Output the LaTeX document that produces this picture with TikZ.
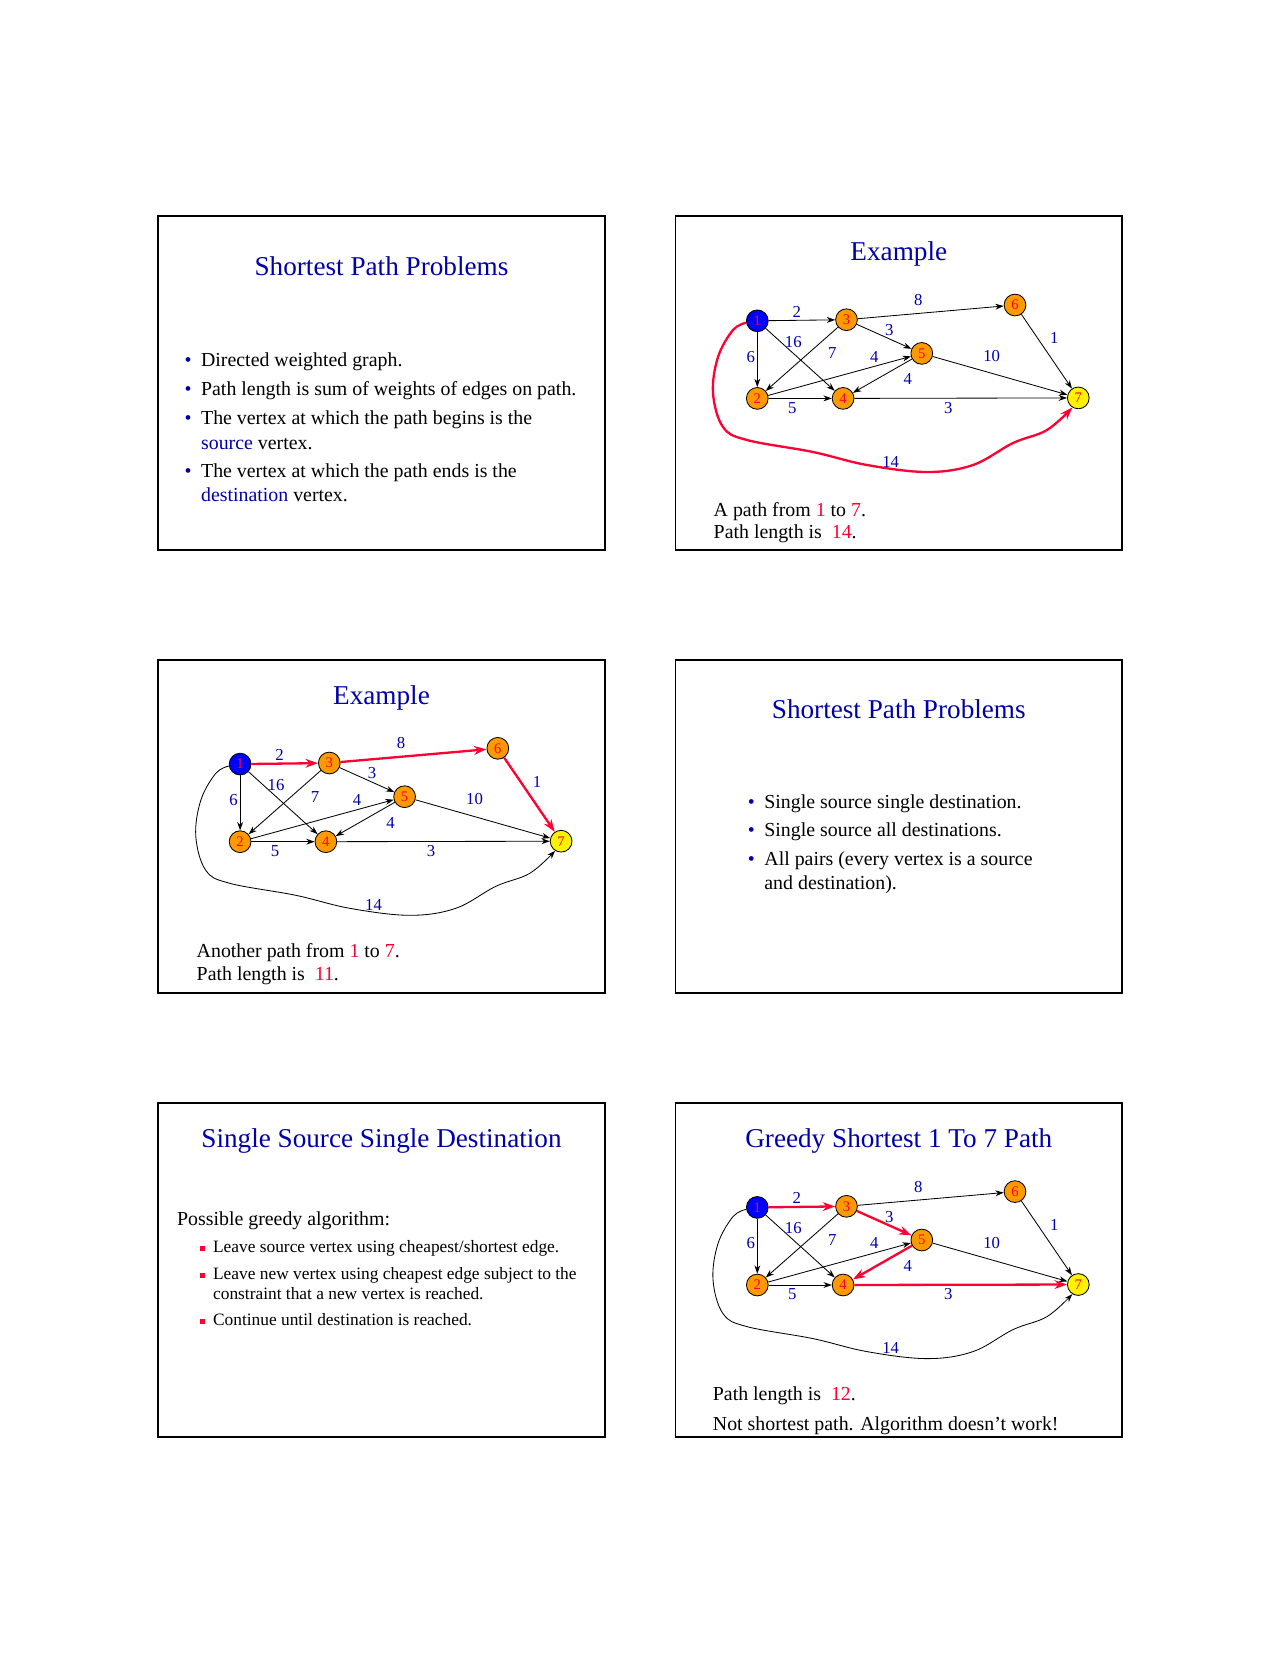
\documentclass[tikz,border=0pt]{standalone}
\usepackage{fontspec}
\setmainfont{Liberation Serif}
\usetikzlibrary{
  arrows.meta,
  positioning,
}
\definecolor{slideblue}{RGB}{0,0,170}
\definecolor{hotred}{RGB}{255,0,51}
\definecolor{vorange}{RGB}{255,153,0}

\tikzstyle{slide} = [draw, line width=0.9pt]
\tikzstyle{title} = [
text=slideblue,
font=\fontsize{13}{15}\selectfont
]
\tikzstyle{body} = [
anchor=west,
align=left,
inner sep=0pt,
font=\fontsize{9.5}{11.6}\selectfont
]
\tikzstyle{small} = [
anchor=west,
align=left,
inner sep=0pt,
font=\fontsize{8.3}{9.6}\selectfont
]
\tikzstyle{vertex} = [
circle,
draw,
line width=0.4pt,
fill=vorange,
text=hotred,
minimum size=10.4pt,
inner sep=0pt,
font=\fontsize{7}{8}\selectfont
]
\tikzstyle{weight} = [text=slideblue, inner sep=0pt, font=\fontsize{8}{9}\selectfont]
\tikzstyle{plain} = [draw, line width=0.4pt, -{Stealth[length=4pt, width=2.8pt]}]
\tikzstyle{hot} = [draw, hotred, line width=1.1pt, -{Stealth[length=6pt, width=4.2pt]}]
\tikzset{e13/.style=plain, e36/.style=plain, e67/.style=plain, e35/.style=plain,
         e54/.style=plain, e47/.style=plain, e17/.style=plain}

\newcommand{\dotitem}{\llap{\textcolor{slideblue}{\textbullet}\hspace{4.6pt}}}
\newcommand{\boxitem}{\llap{\textcolor{hotred}{\rule[0.7pt]{2.4pt}{2.4pt}}\hspace{3.8pt}}}

% the weighted digraph, in coordinates relative to the slide corner
\newcommand{\pathgraph}{%
  % Place vertices
  \node [vertex, fill=blue] (n1) at (81.8,104.4) {1};
  \node [vertex] (n3) at (171,103.3) {3};
  \node [vertex] (n6) at (339.5,88.6) {6};
  \node [vertex] (n5) at (246.3,137) {5};
  \node [vertex] (n2) at (81.8,182) {2};
  \node [vertex] (n4) at (167.6,182) {4};
  \node [vertex, fill=yellow] (n7) at (402.8,181.5) {7};
  % Draw edges
  \path [plain] (n1) -- (n2);
  \path [plain] (n1) -- (n4);
  \path [plain] (n3) -- (n2);
  \path [plain] (n2) -- (n5);
  \path [plain] (n2) -- (n4);
  \path [plain] (n5) -- (n7);
  \path [e13] (n1) -- (n3);
  \path [e36] (n3) -- (n6);
  \path [e67] (n6) -- (n7);
  \path [e35] (n3) -- (n5);
  \path [e54] (n5) -- (n4);
  \path [e47] (n4) -- (n7);
  \path [e17] plot [smooth, tension=0.6] coordinates {(n1.190) (57.5,113.6)
    (42.5,140.6) (37.5,176.6) (47.5,210.6) (71.5,223.6) (137.5,235.6)
    (191.5,248.6) (251.5,255.6) (297.5,248.6) (337.5,226.6) (371.5,213.6)
    (n7.238)};
  % Weights
  \node [weight] (w13) at (121.2,95.3) {2};
  \node [weight] (w36) at (242.8,83.6) {8};
  \node [weight] (w14) at (117.8,125.3) {16};
  \node [weight] (w12) at (75.2,140.3) {6};
  \node [weight] (w32) at (156.8,136.9) {7};
  \node [weight] (w35) at (213.8,113.6) {3};
  \node [weight] (w25) at (198.8,140.3) {4};
  \node [weight] (w57) at (316.2,139.6) {10};
  \node [weight] (w67) at (378.8,121.9) {1};
  \node [weight] (w54) at (232.2,162.9) {4};
  \node [weight] (w24) at (116.8,191.3) {5};
  \node [weight] (w47) at (272.8,191.3) {3};
  \node [weight] (w17) at (215.2,245.3) {14};
}

\begin{document}
\begin{tikzpicture}[x=0.478125pt, y=-0.478125pt]
  \path [use as bounding box, fill=white] (0,0) rectangle (1280,1656);

  % Slide frames
  \draw [slide] (158.3,216.4) rectangle +(446.5,333.6);
  \draw [slide] (675.5,216.4) rectangle +(446.5,333.6);
  \draw [slide] (158.3,659.7) rectangle +(446.5,333.6);
  \draw [slide] (675.5,659.7) rectangle +(446.5,333.6);
  \draw [slide] (158.3,1103) rectangle +(446.5,333.6);
  \draw [slide] (675.5,1103) rectangle +(446.5,333.6);

  % Slide 1
  \node [title] (t1) at (381.5,265.8) {Shortest Path Problems};
  \node [body] (a1) at (200.7,361.5) {\dotitem Directed weighted graph.};
  \node [body] (a2) at (200.7,390.2) {\dotitem Path length is sum of weights of edges on path.};
  \node [body] (a3) at (200.7,430.2) {\dotitem The vertex at which the path begins is the\\
    \textcolor{slideblue}{source} vertex.};
  \node [body] (a4) at (200.7,482.7) {\dotitem The vertex at which the path ends is the\\
    \textcolor{slideblue}{destination} vertex.};

  % Slide 2
  \node [title] (t2) at (898.8,254.2) {Example};
  \begin{scope}[shift={(675.5,216.4)}, name prefix=b-, e17/.style=hot]
    \pathgraph
  \end{scope}
  \node [body] (b1) at (713.3,511.3) {A path from \textcolor{hotred}{1} to \textcolor{hotred}{7}.};
  \node [body] (b2) at (713.3,533.4) {Path length is\ \ \textcolor{hotred}{14}.};

  % Slide 3
  \node [title] (t3) at (381.5,697.5) {Example};
  \begin{scope}[shift={(158.3,659.7)}, name prefix=c-,
      e13/.style=hot, e36/.style=hot, e67/.style=hot]
    \pathgraph
  \end{scope}
  \node [body] (c1) at (196.3,952.4) {Another path from \textcolor{hotred}{1} to \textcolor{hotred}{7}.};
  \node [body] (c2) at (196.3,975.6) {Path length is\ \ \textcolor{hotred}{11}.};

  % Slide 4
  \node [title] (t4) at (898.8,709.1) {Shortest Path Problems};
  \node [body] (d1) at (764,803.5) {\dotitem Single source single destination.};
  \node [body] (d2) at (764,831.8) {\dotitem Single source all destinations.};
  \node [body] (d3) at (764,872.7) {\dotitem All pairs (every vertex is a source\\
    and destination).};

  % Slide 5
  \node [title] (t5) at (381.5,1140.8) {Single Source Single Destination};
  \node [body] (e0) at (176.7,1221) {Possible greedy algorithm:};
  \node [small] (e1) at (212.7,1248) {\boxitem Leave source vertex using cheapest/shortest edge.};
  \node [small] (e2) at (212.7,1283.8) {\boxitem Leave new vertex using cheapest edge subject to the\\
    constraint that a new vertex is reached.};
  \node [small] (e3) at (212.7,1319.7) {\boxitem Continue until destination is reached.};

  % Slide 6
  \node [title] (t6) at (898.8,1140.8) {Greedy Shortest 1 To 7 Path};
  \begin{scope}[shift={(675.5,1103)}, name prefix=f-,
      e13/.style=hot, e35/.style=hot, e54/.style=hot, e47/.style=hot]
    \pathgraph
  \end{scope}
  \node [body] (f1) at (712.5,1396) {Path length is\ \ \textcolor{hotred}{12}.};
  \node [body] (f2) at (712.5,1425.6) {Not shortest path. Algorithm doesn't work!};
\end{tikzpicture}
\end{document}
